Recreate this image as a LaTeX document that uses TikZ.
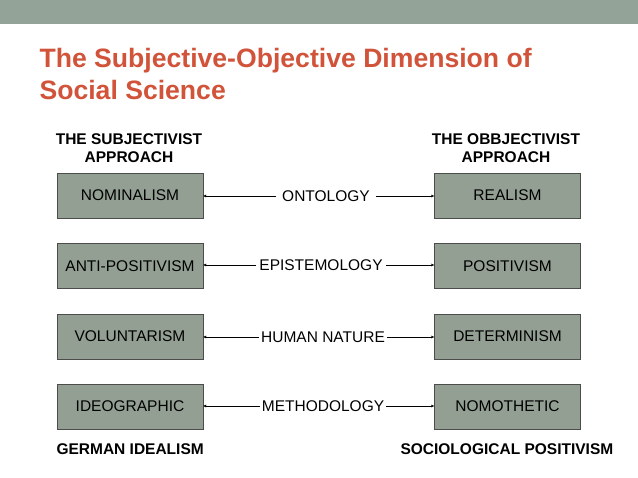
\documentclass[tikz,border=0pt]{standalone}
\usepackage{fontspec}
\setmainfont{Liberation Sans}
\usetikzlibrary{arrows.meta}
\definecolor{bar}{HTML}{93A398}
\definecolor{boxf}{HTML}{939F93}
\definecolor{ttl}{HTML}{D0533A}
\begin{document}
\begin{tikzpicture}[x=1pt,y=-1pt,
  box/.style={draw=black!70,fill=boxf,minimum width=146pt,minimum height=45pt,inner sep=0pt,font=\fontsize{15.5}{18}\selectfont},
  mid/.style={font=\fontsize{15.5}{18}\selectfont,inner sep=6pt},
  head/.style={font=\bfseries\fontsize{15.5}{18.5}\selectfont,align=center},
  arr/.style={-{Latex[length=3pt,width=3pt]},black,thin}]
\useasboundingbox (0,0) rectangle (638,478);
\fill[bar] (0,0) rectangle (638,24);
\node[anchor=west,text=ttl,font=\bfseries\fontsize{26.6}{32}\selectfont,align=left] (title) at (36,74) {The Subjective-Objective Dimension of\\Social Science};
\node[head] (hl) at (129,148) {THE SUBJECTIVIST\\APPROACH};
\node[head] (hr) at (506,148) {THE OBBJECTIVIST\\APPROACH};
\node[box] (l1) at (130,195.5) {NOMINALISM};
\node[box] (r1) at (507.5,195.5) {REALISM};
\node[box] (l2) at (130,266) {ANTI-POSITIVISM};
\node[box] (r2) at (507.5,266) {POSITIVISM};
\node[box] (l3) at (130,336.5) {VOLUNTARISM};
\node[box] (r3) at (507.5,336.5) {DETERMINISM};
\node[box] (l4) at (130,406.5) {IDEOGRAPHIC};
\node[box] (r4) at (507.5,406.5) {NOMOTHETIC};
\node[mid] (m1) at (326,196) {ONTOLOGY};
\node[mid,inner xsep=3pt] (m2) at (321,265) {EPISTEMOLOGY};
\node[mid,inner xsep=2pt] (m3) at (323,337) {HUMAN NATURE};
\node[mid,inner xsep=2pt] (m4) at (323,406) {METHODOLOGY};
\foreach \i in {1,...,4}{
  \draw[arr] (m\i.west) -- (l\i.east |- m\i.west);
  \draw[arr] (m\i.east) -- (r\i.west |- m\i.east);
}
\node[head,anchor=west] (gl) at (53,449) {GERMAN IDEALISM};
\node[head,anchor=west] (gr) at (397,449) {SOCIOLOGICAL POSITIVISM};
\end{tikzpicture}
\end{document}
